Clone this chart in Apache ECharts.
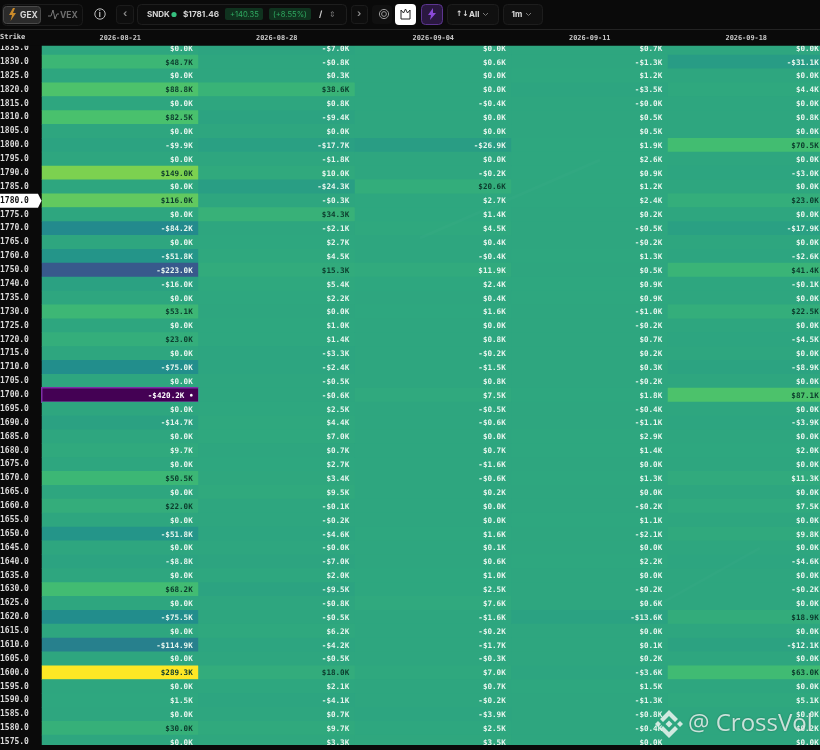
<!DOCTYPE html>
<html><head><meta charset="utf-8">
<style>html,body{margin:0;padding:0;background:#0a0a0a;overflow:hidden}#c{width:820px;height:750px}</style>
<script src="https://cdn.jsdelivr.net/npm/echarts@6/dist/echarts.min.js"></script>
</head><body><div id="c"></div>
<script>
const expiries = ['2026-08-21','2026-08-28','2026-09-04','2026-09-11','2026-09-18'];
const strikes = [1835,1830,1825,1820,1815,1810,1805,1800,1795,1790,1785,1780,1775,1770,1765,1760,1750,1740,1735,1730,1725,1720,1715,1710,1705,1700,1695,1690,1685,1680,1675,1670,1665,1660,1655,1650,1645,1640,1635,1630,1625,1620,1615,1610,1605,1600,1595,1590,1585,1580,1575];
const gex0821 = [0,48.7,0,88.8,0,82.5,0,-9.9,0,149.0,0,116.0,0,-84.2,0,-51.8,-223.0,-16.0,0,53.1,0,23.0,0,-75.0,0,-420.2,0,-14.7,0,9.7,0,50.5,0,22.0,0,-51.8,0,-8.8,0,68.2,0,-75.5,0,-114.9,0,289.3,0,1.5,0,30.0,0];
const gex0828 = [-7.0,-0.8,0.3,38.6,0.8,-9.4,0.0,-17.7,-1.8,10.0,-24.3,-0.3,34.3,-2.1,2.7,4.5,15.3,5.4,2.2,0.0,1.0,1.4,-3.3,-2.4,-0.5,-0.6,2.5,4.4,7.0,0.7,2.7,3.4,9.5,-0.1,-0.2,-4.6,-0,-7.0,2.0,-9.5,-0.8,-0.5,6.2,-4.2,-0.5,18.0,2.1,-4.1,0.7,9.7,3.3];
const gex0904 = [0,0.6,0,0,-0.4,0,0,-26.9,0,-0.2,20.6,2.7,1.4,4.5,0.4,-0.4,11.9,2.4,0.4,1.6,0,0.8,-0.2,-1.5,0.8,7.5,-0.5,-0.6,0,0.7,-1.6,-0.6,0.2,0,0,1.6,0.1,0.6,1.0,2.5,7.6,-1.6,-0.2,-1.7,-0.3,7.0,0.7,-0.2,-3.9,2.5,3.5];
const gex0911 = [0.7,-1.3,1.2,-3.5,-0,0.5,0.5,1.9,2.6,0.9,1.2,2.4,0.2,-0.5,-0.2,1.3,0.5,0.9,0.9,-1.0,-0.2,0.7,0.2,0.3,-0.2,1.8,-0.4,-1.1,2.9,1.4,0,1.3,0,-0.2,1.1,-2.1,0,2.2,0,-0.2,0.6,-13.6,0,0.1,0.2,-3.6,1.5,-1.3,-0.8,-0.4,0];
const gex0918 = [0,-31.1,0,4.4,0,0.8,0,70.5,0,-3.0,0,23.0,0,-17.9,0,-2.6,41.4,-0.1,0,22.5,0,-4.5,0,-8.9,0,87.1,0,-3.9,0,2.0,0,11.3,0,7.5,0,9.8,0,-4.6,0,-0.2,0,18.9,0,-12.1,0,63.0,0,5.1,0,0.2,0];
const columns = [gex0821,gex0828,gex0904,gex0911,gex0918];
const currentStrike = 1780, extreme = -420.2;

const fmt = v => ((v<0||Object.is(v,-0))?'-':'')+'$'+Math.abs(v).toFixed(1)+'K';
const cells = [];
columns.forEach((col,x)=>col.forEach((v,y)=>{
  const item = {value:[x,y,v],label:{color:v>=15?'#0c3a2c':'#e8f6ef'}};
  if(v===extreme){item.itemStyle={borderColor:'#7d2fa6',borderWidth:1.5};item.label={color:'#fff',fontWeight:'bold'};}
  cells.push(item);
}));

const T=(x,y,text,color,size,weight,family,extra)=>({type:'text',z:150,x,y,silent:true,style:Object.assign({text,fill:color,fontSize:size,fontWeight:weight||'normal',fontFamily:family||'Inter',verticalAlign:'middle',align:'left'},extra||{})});
const R=(x,y,w,h,r,fill,stroke,z)=>({type:'rect',z:z||120,silent:true,shape:{x,y,width:w,height:h,r},style:{fill:fill||'transparent',stroke:stroke||null,lineWidth:1}});
const PL=(pts,fill,z,op)=>({type:'polygon',z:z||150,silent:true,shape:{points:pts},style:{fill,opacity:op==null?1:op}});
const LN=(pts,stroke,w,z,op)=>({type:'polyline',z:z||150,silent:true,shape:{points:pts},style:{stroke,lineWidth:w,fill:null,opacity:op==null?1:op}});

const chrome = [
  R(0,0,820,45.7,0,'#0a0a0a',null,100),
  R(0,745,820,5,0,'#0a0a0a',null,100),
  LN([[0,29.5],[820,29.5]],'#232323',1,110),
  R(2.5,4.5,80,21,4,'#0c0c0c','#1b1b1b'),
  R(3.5,6.5,37,17,3,'#2b2b2b','#4a4a4a'),
  PL([[13,8],[9,15],[12,15],[10.5,21],[16,13],[13,13],[15,8]],'#c98a2a'),
  T(20,15,'GEX','#d8d8d8',8.5,'bold'),
  LN([[48,16],[51,16],[53,10],[55,19],[57,14],[59,14]],'#777',1),
  T(60,15,'VEX','#6e6e6e',8.5,'bold'),
  {type:'circle',z:150,silent:true,shape:{cx:100,cy:14,r:5.2},style:{fill:null,stroke:'#bbb',lineWidth:1}},
  T(98.8,14.5,'i','#ccc',7.5,'bold'),
  R(116.5,5.5,17,18,3,'#0e0e0e','#1c1c1c'),
  T(123,14,'‹','#8a8a8a',10,'bold'),
  R(137.5,4.5,209,20,4,'#0d0d0d','#1e1e1e'),
  T(147,14.5,'SNDK','#d5d5d5',8,'bold'),
  {type:'circle',z:150,silent:true,shape:{cx:174,cy:14.5,r:2.6},style:{fill:'#35c07f'}},
  T(183,14.5,'$1781.46','#d5d5d5',8.2,'bold'),
  R(225,8,38,12,2,'#10331f'),
  T(230,14.5,'+140.35','#2fa860',7.6,'normal'),
  R(269,8,42,12,2,'#10331f'),
  T(273,14.5,'(+8.55%)','#2fa860',7.6,'normal'),
  T(319,14.5,'/','#d0d0d0',8.5,'bold'),
  T(329,14.5,'⇕','#777',8,'normal','DejaVu Sans'),
  R(351.5,5.5,16,18,3,'#0e0e0e','#1c1c1c'),
  T(357,14,'›','#8a8a8a',10,'bold'),
  R(372,5,20,19,4,'#101010'),
  {type:'circle',z:150,silent:true,shape:{cx:384,cy:14,r:4.6},style:{fill:null,stroke:'#999',lineWidth:1}},
  {type:'circle',z:150,silent:true,shape:{cx:384,cy:14,r:2.4},style:{fill:null,stroke:'#999',lineWidth:1}},
  R(395,4,21,21,4,'#ffffff'),
  LN([[401,19],[401,10],[403.5,13],[405.5,9],[407.5,13],[410,10],[410,19],[401,19]],'#222',1),
  R(421.5,4.5,21,20,4,'#2a1840','#5c3590'),
  PL([[433,8],[428,15],[431,15],[430,20],[436,13],[433,13]],'#8a49d8'),
  R(447.5,4.5,51,20,4,'#101010','#1d1d1d'),
  T(456,14,'↑↓','#ddd',7.5,'bold','DejaVu Sans',{letterSpacing:-2}),
  T(469,14.5,'All','#dcdcdc',8,'bold'),
  LN([[483,13],[485.5,15.5],[488,13]],'#777',1),
  R(503.5,4.5,39,20,4,'#101010','#1d1d1d'),
  T(511.5,14.5,'1m','#dcdcdc',8,'bold'),
  LN([[526,13],[528.5,15.5],[531,13]],'#777',1),
  T(0,37,'Strike','#d8d8d8',7,'bold','DejaVu Sans Mono'),
  // faint background streaks
  LN([[420,238],[600,160]],'#ffffff',3,60,0.015),
  LN([[660,604],[760,548]],'#ffffff',3,60,0.015),
  // watermark
  PL([[669,710],[678,719],[675,722],[669,716],[663,722],[660,719]],'#e8f2ee',160,.88),
  PL([[669,738],[678,729],[675,726],[669,732],[663,726],[660,729]],'#e8f2ee',160,.88),
  PL([[658,721],[661,724],[658,727],[655,724]],'#e8f2ee',160,.88),
  PL([[680,721],[683,724],[680,727],[677,724]],'#e8f2ee',160,.88),
  PL([[669,720.5],[672.5,724],[669,727.5],[665.5,724]],'#e8f2ee',160,.88),
  T(688,724,'@ CrossVol','#e8f2ee',24,'normal','Open Sans',{opacity:.85,textShadowColor:'rgba(0,0,0,.35)',textShadowBlur:2}),
];

const chart = echarts.init(document.getElementById('c'),null,{renderer:'canvas'});
chart.setOption({
  animation:false,
  backgroundColor:'#0a0a0a',
  grid:{show:true,backgroundColor:'#2ea67f',borderWidth:0,left:42,top:41,width:782.5,height:708,containLabel:false,outerBoundsMode:'none'},
  xAxis:{type:'category',position:'top',z:200,data:expiries,axisLine:{show:false},axisTick:{show:false},splitLine:{show:false},
    axisLabel:{color:'#c9c9c9',fontSize:6.9,fontWeight:'bold',fontFamily:'DejaVu Sans Mono',margin:-1,interval:0}},
  yAxis:{type:'category',inverse:true,z:10,data:strikes.map(s=>s.toFixed(1)),axisLine:{show:false},axisTick:{show:false},splitLine:{show:false},
    axisLabel:{fontSize:8,fontWeight:'bold',fontFamily:'DejaVu Sans Mono',align:'left',margin:42,interval:0,padding:[2,0,0,0],
      color:(v)=>parseFloat(v)===currentStrike?'#111':'#dadada'}},
  visualMap:{show:false,min:extreme,max:289.3,dimension:2,calculable:false,
    inRange:{color:['#440154','#482475','#414487','#355f8d','#2a788e','#21918c','#2fa87e','#44bf70','#7ad151','#bddf26','#fde725']}},
  series:[{type:'heatmap',data:cells,progressive:0,
    itemStyle:{borderWidth:0},
    emphasis:{disabled:true},
    label:{show:true,position:'insideRight',distance:6,offset:[0,0.7],fontSize:7.6,fontWeight:'bold',fontFamily:'DejaVu Sans Mono',
      formatter:p=>p.value[2]===extreme?fmt(p.value[2])+' •':fmt(p.value[2])}}],
  graphic:chrome
});
const my = chart.convertToPixel({yAxisIndex:0},currentStrike.toFixed(1));
chart.setOption({graphic:[{id:'spot',type:'polygon',z:5,silent:true,shape:{points:[[0,my-7],[38,my-7],[41.5,my],[38,my+7],[0,my+7]]},style:{fill:'#ffffff'}}]});
</script></body></html>
